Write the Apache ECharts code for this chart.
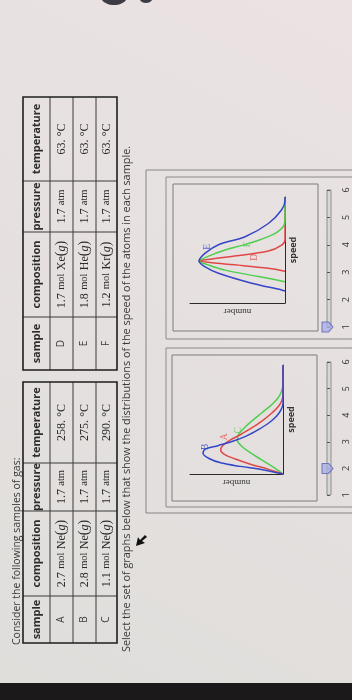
<!DOCTYPE html>
<html>
<head>
<meta charset="utf-8">
<script src="https://cdn.jsdelivr.net/npm/echarts@6/dist/echarts.min.js"></script>
<style>
html, body { margin: 0; padding: 0; background: #e3e0e0; }
#main { width: 352px; height: 700px; }
</style>
</head>
<body>
<div id="main"></div>
<script>
// table data
var headers = ['sample', 'composition', 'pressure', 'temperature'];
var samples1 = ['A', 'B', 'C'];
var moles1 = ['2.7', '2.8', '1.1'];
var gases1 = ['Ne', 'Ne', 'Ne'];
var pressures1 = ['1.7', '1.7', '1.7'];
var temps1 = ['258.', '275.', '290.'];
var samples2 = ['D', 'E', 'F'];
var moles2 = ['1.7', '1.8', '1.2'];
var gases2 = ['Xe', 'He', 'Kr'];
var pressures2 = ['1.7', '1.7', '1.7'];
var temps2 = ['63.', '63.', '63.'];

// curves, [number, speed]
var curveD = [[0, 3.0], [1.75, 3.27], [5.3, 3.6], [7.7, 3.8], [9.05, 3.96], [7.7, 4.15], [5.3, 4.43], [1.75, 4.9], [0.35, 5.47], [0, 5.95], [0, 10]];
var curveF = [[0, 2.0], [0.5, 2.1], [2.8, 2.5], [6.3, 3.1], [8.1, 3.6], [9.05, 3.96], [8.1, 4.4], [6.3, 5.0], [3.9, 5.6], [1.4, 6.4], [0.2, 7.2], [0, 8.0], [0, 10]];
var curveE = [[0, 1.13], [0.35, 1.23], [3.5, 1.86], [7.0, 2.8], [8.4, 3.4], [9.05, 3.96], [8.4, 4.7], [7.0, 5.5], [4.2, 6.25], [1.75, 7.5], [0.35, 8.8], [0, 9.7], [0, 10]];
var curveA = [[0, 0], [1.6, 0.45], [3.5, 0.9], [5.2, 1.4], [6.3, 1.8], [6.7, 2.2], [6.5, 2.6], [5.7, 3.1], [4.6, 3.6], [3.4, 4.2], [2.2, 4.9], [1.2, 5.6], [0.5, 6.2], [0.1, 6.8], [0, 7.4], [0, 10]];
var curveB = [[0, 0], [2.2, 0.4], [4.6, 0.7], [6.6, 1.0], [7.9, 1.4], [8.6, 1.9], [8.3, 2.3], [7.0, 2.6], [5.4, 3.0], [3.9, 3.5], [2.6, 4.1], [1.5, 4.7], [0.7, 5.3], [0.2, 5.9], [0, 6.5], [0, 10]];
var curveC = [[0, 0], [1.0, 0.6], [2.3, 1.3], [3.6, 2.0], [4.5, 2.6], [4.9, 3.1], [4.8, 3.6], [4.2, 4.2], [3.3, 4.9], [2.3, 5.6], [1.3, 6.3], [0.6, 6.9], [0.2, 7.5], [0, 8.2], [0, 10]];

// curve letters, [number, speed]
var labelsRight = [['E', 8.2, 5.3], ['F', 3.9, 5.5], ['D', 3.2, 4.3]];
var labelsLeft = [['B', 8.3, 2.5], ['A', 6.3, 3.4], ['C', 4.75, 4.0]];

// slider positions (right graph, left graph)
var sliderValues = [1, 2];

var SANS = '"Open Sans", sans-serif';
var SERIF = '"Liberation Serif", serif';
var BLUE = '#3446c8', RED = '#e04848', GREEN = '#4fcf4f';
var letterColor = { D: RED, E: BLUE, F: GREEN, A: RED, B: BLUE, C: GREEN };

var tableRowX = [23, 50, 73, 96, 117];
var table1ColY = [643, 596, 511, 463, 382];
var table2ColY = [370, 317, 232, 181, 97];

var valRich = {
    n: { fontSize: 12, fontFamily: SERIF, fill: '#2b2b2b' },
    u: { fontSize: 10.5, fontFamily: SERIF, fill: '#2b2b2b' },
    p: { fontSize: 14, fontFamily: SERIF, fill: '#2b2b2b' },
    i: { fontSize: 12, fontFamily: SERIF, fontStyle: 'italic', fill: '#2b2b2b' }
};

// text reading bottom to top
function vtext(x, y, text, font, color, align) {
    return {
        type: 'text', x: x, y: y, rotation: Math.PI / 2, silent: true,
        style: { text: text, font: font, fill: color, align: align || 'center', verticalAlign: 'middle' }
    };
}

function vrich(x, y, text) {
    return {
        type: 'text', x: x, y: y, rotation: Math.PI / 2, silent: true,
        style: { text: text, rich: valRich, align: 'center', verticalAlign: 'middle' }
    };
}

function line(x1, y1, x2, y2, color, w) {
    return { type: 'line', silent: true, shape: { x1: x1, y1: y1, x2: x2, y2: y2 }, style: { stroke: color, lineWidth: w } };
}

function box(x, y, w, h, color) {
    return { type: 'rect', silent: true, shape: { x: x, y: y, width: w, height: h }, style: { fill: 'none', stroke: color, lineWidth: 1 } };
}

function buildTable(colY, samples, moles, gases, pressures, temps) {
    var els = [];
    var x0 = tableRowX[0], x1 = tableRowX[4];
    for (var c = 1; c < 4; c++) {
        els.push(line(x0, colY[c], x1, colY[c], '#3a3a3a', 1));
    }
    for (var r = 1; r < 4; r++) {
        els.push(line(tableRowX[r], colY[0], tableRowX[r], colY[4], '#3a3a3a', 1));
    }
    els.push({
        type: 'rect', silent: true,
        shape: { x: x0, y: colY[4], width: x1 - x0, height: colY[0] - colY[4] },
        style: { fill: 'none', stroke: '#1e1e1e', lineWidth: 1.6 }
    });
    var cy = function (c) { return (colY[c] + colY[c + 1]) / 2; };
    var hx = (tableRowX[0] + tableRowX[1]) / 2;
    for (var i = 0; i < headers.length; i++) {
        els.push(vtext(hx, cy(i), headers[i], 'bold 11px ' + SANS, '#2e2e2e'));
    }
    for (var k = 0; k < samples.length; k++) {
        var rx = (tableRowX[k + 1] + tableRowX[k + 2]) / 2;
        els.push(vtext(rx, cy(0), samples[k], '10px ' + SANS, '#3a3a3a'));
        els.push(vrich(rx, cy(1), '{n|' + moles[k] + '} {u|mol} {n|' + gases[k] + '}{p|(}{i|g}{p|)}'));
        els.push(vrich(rx, cy(2), '{n|' + pressures[k] + '} {u|atm}'));
        els.push(vrich(rx, cy(3), '{n|' + temps[k] + '} {n|°C}'));
    }
    return els;
}

var graphics = [];
graphics.push({
    type: 'rect', z: -10, silent: true,
    shape: { x: 0, y: 0, width: 352, height: 700 },
    style: {
        fill: new echarts.graphic.LinearGradient(1, 0, 0, 1, [
            { offset: 0, color: '#ebe2e3' },
            { offset: 1, color: '#dfdedb' }
        ])
    }
});
graphics.push({ type: 'rect', silent: true, shape: { x: 0, y: 683, width: 352, height: 17 }, style: { fill: '#1b1919' } });
graphics.push({ type: 'ellipse', silent: true, shape: { cx: 114, cy: -3, rx: 13, ry: 8 }, style: { fill: '#3c3b45' } });
graphics.push({ type: 'ellipse', silent: true, shape: { cx: 146, cy: -3, rx: 7, ry: 6 }, style: { fill: '#3c3b45' } });

graphics.push(vtext(17, 645, 'Consider the following samples of gas:', '10.5px ' + SANS, '#3a3a3a', 'left'));
graphics = graphics.concat(buildTable(table1ColY, samples1, moles1, gases1, pressures1, temps1));
graphics = graphics.concat(buildTable(table2ColY, samples2, moles2, gases2, pressures2, temps2));
graphics.push(vtext(127, 652, 'Select the set of graphs below that show the distributions of the speed of the atoms in each sample.', '10.9px ' + SANS, '#3a3a3a', 'left'));
graphics.push({
    type: 'polygon', silent: true,
    shape: { points: [[136, 546], [138, 537], [140, 540], [145, 535], [147, 537], [142, 541], [145, 543]] },
    style: { fill: '#111' }
});

// answer boxes
graphics.push(box(146, 170, 230, 343, '#858585'));
graphics.push(box(166, 177, 210, 162, '#8a8a8a'));
graphics.push(box(166, 348, 210, 159, '#8a8a8a'));
graphics.push(box(173, 184, 145, 147, '#7d7d7d'));
graphics.push(box(172, 355, 145, 146, '#7d7d7d'));

function graphXAxis(gi) {
    return {
        gridIndex: gi, type: 'value', inverse: true, min: 0, max: 10,
        axisLine: { lineStyle: { color: '#2a2a2a', width: 1 } },
        axisTick: { show: false }, axisLabel: { show: false }, splitLine: { show: false },
        name: 'number', nameLocation: 'middle', nameRotate: 180, nameGap: 4,
        nameTextStyle: { fontFamily: SERIF, fontSize: 9, color: '#333' }
    };
}
function graphYAxis(gi) {
    return {
        gridIndex: gi, type: 'value', position: 'right', min: 0, max: 10,
        axisLine: { lineStyle: { color: '#2a2a2a', width: 1 } },
        axisTick: { show: false }, axisLabel: { show: false }, splitLine: { show: false },
        name: 'speed', nameLocation: 'middle', nameRotate: 90, nameGap: 4,
        nameTextStyle: { fontFamily: SANS, fontWeight: 'bold', fontSize: 9, color: '#333' }
    };
}
function sliderXAxis(gi) {
    return { gridIndex: gi, type: 'value', min: 0, max: 1, show: false };
}
function sliderYAxis(gi) {
    return {
        gridIndex: gi, type: 'value', min: 1, max: 6, interval: 1, position: 'right', offset: 5,
        axisLine: { show: false },
        axisTick: { show: true, length: 3, lineStyle: { color: '#555' } },
        splitLine: { show: false },
        axisLabel: { rotate: 90, fontSize: 9, color: '#333', margin: 6, fontFamily: SANS }
    };
}

function curve(data, color, gi) {
    return {
        type: 'line', xAxisIndex: gi, yAxisIndex: gi, data: data, showSymbol: false, smooth: 0.35,
        lineStyle: { color: color, width: 1.5 }, itemStyle: { color: color }, silent: true
    };
}
function letters(list, gi) {
    return {
        type: 'scatter', xAxisIndex: gi, yAxisIndex: gi, symbolSize: 1, silent: true,
        itemStyle: { color: 'rgba(0,0,0,0)' },
        data: list.map(function (d) {
            return { name: d[0], value: [d[1], d[2]], label: { color: letterColor[d[0]] } };
        }),
        label: { show: true, formatter: '{b}', position: 'inside', rotate: 90, fontFamily: SERIF, fontSize: 9.5 }
    };
}
function thumb(v, gi) {
    return {
        type: 'scatter', xAxisIndex: gi, yAxisIndex: gi, silent: true,
        data: [[0.5, v]],
        symbol: 'path://M0 0L6 0L10 5L6 10L0 10Z', symbolSize: [11, 10], symbolOffset: [-1.5, 0],
        itemStyle: { color: '#aab0e6', borderColor: '#5b63b0', borderWidth: 1 }
    };
}

var option = {
    animation: false,
    graphic: { elements: graphics },
    grid: [
        { left: 190, top: 197, width: 95, height: 106 },
        { left: 190, top: 365, width: 93, height: 109 },
        { left: 327, top: 190, width: 4, height: 137, show: true, backgroundColor: '#d8d7d7', borderColor: '#8e8e8e', borderWidth: 1 },
        { left: 327, top: 362, width: 4, height: 133, show: true, backgroundColor: '#d8d7d7', borderColor: '#8e8e8e', borderWidth: 1 }
    ],
    xAxis: [graphXAxis(0), graphXAxis(1), sliderXAxis(2), sliderXAxis(3)],
    yAxis: [graphYAxis(0), graphYAxis(1), sliderYAxis(2), sliderYAxis(3)],
    series: [
        curve(curveD, RED, 0),
        curve(curveF, GREEN, 0),
        curve(curveE, BLUE, 0),
        letters(labelsRight, 0),
        curve(curveC, GREEN, 1),
        curve(curveA, RED, 1),
        curve(curveB, BLUE, 1),
        letters(labelsLeft, 1),
        thumb(sliderValues[0], 2),
        thumb(sliderValues[1], 3)
    ]
};

var myChart = echarts.init(document.getElementById('main'));
myChart.setOption(option);
</script>
</body>
</html>
